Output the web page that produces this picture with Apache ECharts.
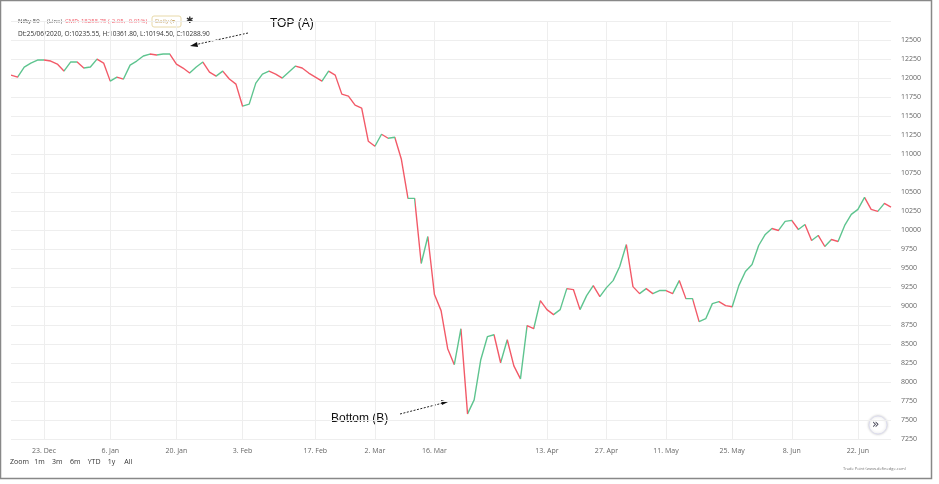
<!DOCTYPE html>
<html><head><meta charset="utf-8">
<script src="https://cdn.jsdelivr.net/npm/echarts@6/dist/echarts.min.js"></script>
<style>html,body{margin:0;padding:0;background:#fff}#c{width:939px;height:484px}</style>
</head><body><div id="c"></div>
<script>
const closeValues = [12038,12012,12144,12197,12236,12236,12223,12183,12091,12210,12210,12131,12144,12249,12197,11959,12012,11986,12170,12223,12289,12315,12302,12315,12315,12183,12131,12065,12144,12210,12078,12025,12091,11986,11920,
11629,11656,11933,12052,12091,12052,11999,12078,12157,12131,12065,12012,11959,12091,12038,11788,11761,11643,11603,11168,11102,11260,11207,11221,10930,10416,10416,9559,9915,9150,8939,8438,8227,8701,7580,7765,8293,8596,8622,8253,8556,8213,8042,8741,8701,9071,8952,8886,8952,9229,9216,8952,9137,9268,9123,9242,9334,9519,9809,9255,9163,9229,9163,9203,9203,9163,9334,9097,9097,8794,8833,9031,9057,9005,8991,9268,9453,9545,9796,9941,10020,9994,10113,10126,10007,10073,9862,9928,9783,9875,9849,10060,10205,10271,10429,10271,10245,10350,10300];
const tickLabels = ['23. Dec','6. Jan','20. Jan','3. Feb','17. Feb','2. Mar','16. Mar','13. Apr','27. Apr','11. May','25. May','8. Jun','22. Jun'];
const tickIndex = [5,15,25,35,46,55,64,81,90,99,109,118,128];
const yTicks = {min:7250,max:12750,interval:250};

const cats = closeValues.map((_, i) => { const k = tickIndex.indexOf(i); return k >= 0 ? tickLabels[k] : ''; });
const GREEN = '#5ec48f', RED = '#f25a68';
const pieces = [];
for (let i = 0; i < closeValues.length - 1; i++) {
  pieces.push({gte: i, lt: i + 1, color: closeValues[i + 1] < closeValues[i] ? RED : GREEN});
}
pieces.push({gte: closeValues.length - 1, lte: closeValues.length, color: RED});
const showTick = (i) => tickIndex.indexOf(i) >= 0;

const chart = echarts.init(document.getElementById('c'));
chart.setOption({
  animation: false,
  grid: {left: 11, right: 48, top: 21, bottom: 45},
  xAxis: {type: 'category', data: cats, boundaryGap: false,
    axisLine: {show: false}, axisTick: {show: false},
    axisLabel: {interval: (i) => showTick(i), color: '#666', fontSize: 7, margin: 8, fontFamily: 'Open Sans'},
    splitLine: {show: true, interval: (i) => showTick(i), lineStyle: {color: '#eeeeee'}}},
  yAxis: {type: 'value', position: 'right', min: yTicks.min, max: yTicks.max, interval: yTicks.interval,
    axisLabel: {color: '#666', fontSize: 7, margin: 10, fontFamily: 'Open Sans',
      formatter: v => v === 12750 ? '' : String(v)},
    axisLine: {show: false}, axisTick: {show: false},
    splitLine: {lineStyle: {color: '#eeeeee'}}},
  visualMap: {show: false, type: 'piecewise', dimension: 0, pieces: pieces},
  series: [{type: 'line', data: closeValues, symbol: 'none', lineStyle: {width: 1.4}}],
  graphic: [
    {type: 'rect', shape: {x: 0.5, y: 0.5, width: 931, height: 478}, style: {fill: 'none', stroke: '#888', lineWidth: 1.5}},
    {type: 'text', left: 18, top: 18, style: {text: 'Nifty 50', fontSize: 6, fill: '#333', fontFamily: 'Open Sans'}},
    {type: 'text', left: 47, top: 18, style: {text: '(Line)', fontSize: 6, fill: '#666', fontFamily: 'Open Sans'}},
    {type: 'text', left: 65, top: 18, style: {text: 'CMP: 18255.75 (-2.05, -0.01%)', fontSize: 6, fill: '#f25a68', fontFamily: 'Open Sans'}},
    {type: 'rect', shape: {x: 152, y: 16, width: 29, height: 11, r: 2}, style: {fill: '#fff', stroke: '#e8d9a8'}},
    {type: 'text', left: 155, top: 18, style: {text: 'Daily (\u25BE', fontSize: 6, fill: '#c9a96b', fontFamily: 'Open Sans'}},
    {type: 'text', left: 186, top: 16, style: {text: '\u2731', fontSize: 9, fill: '#333'}},
    {type: 'text', left: 18, top: 31, style: {text: 'Dt:25/06/2020, O:10235.55, H:10361.80, L:10194.50, C:10288.90', fontSize: 6.5, fill: '#333', fontFamily: 'Open Sans'}},
    {type: 'text', left: 270, top: 18, style: {text: 'TOP (A)', fontSize: 12, fill: '#111', fontFamily: 'Liberation Sans'}},
    {type: 'line', shape: {x1: 248, y1: 33, x2: 194, y2: 45}, style: {stroke: '#222', lineWidth: 1, lineDash: [2, 1.5]}},
    {type: 'polygon', shape: {points: [[190, 46], [197, 42], [198, 47]]}, style: {fill: '#111'}},
    {type: 'text', left: 331, top: 413, style: {text: 'Bottom (B)', fontSize: 12, fill: '#111', fontFamily: 'Liberation Sans'}},
    {type: 'line', shape: {x1: 400, y1: 414, x2: 443, y2: 403}, style: {stroke: '#222', lineWidth: 1, lineDash: [2, 1.5]}},
    {type: 'polygon', shape: {points: [[448, 402], [441, 400], [442, 405]]}, style: {fill: '#111'}},
    {type: 'text', left: 10, top: 458, style: {text: 'Zoom   1m    3m    6m    YTD    1y     All', fontSize: 7, fill: '#333', fontFamily: 'Open Sans'}},
    {type: 'text', left: 843, top: 467, style: {text: 'Trade Point (www.definedge.com)', fontSize: 4, fill: '#777', fontFamily: 'Open Sans'}},
    {type: 'circle', shape: {cx: 878, cy: 425, r: 9}, style: {fill: '#fff', stroke: '#dde', lineWidth: 1, shadowBlur: 3, shadowColor: 'rgba(0,0,0,0.2)'}},
    {type: 'text', left: 872, top: 419, style: {text: '\u00BB', fontSize: 12, fill: '#445', fontFamily: 'DejaVu Sans'}}
  ]
});
</script></body></html>
